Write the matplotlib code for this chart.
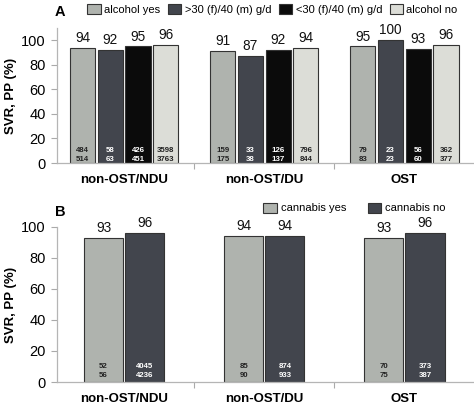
import numpy as np
import matplotlib.pyplot as plt
from matplotlib.patches import Patch

plt.rcParams['font.family'] = ['Liberation Sans', 'DejaVu Sans']

groups = ['non-OST/NDU', 'non-OST/DU', 'OST']

# panel A: alcohol
alc_labels = ['alcohol yes', '>30 (f)/40 (m) g/d', '<30 (f)/40 (m) g/d', 'alcohol no']
alc_colors = ['#afb3ae', '#42454d', '#0b0b0b', '#dcddd7']
alc_text = ['#222222', 'white', 'white', '#222222']
alc_svr = [[94, 91, 95],
           [92, 87, 100],
           [95, 92, 93],
           [96, 94, 96]]
alc_num = [[484, 159, 79],
           [58, 33, 23],
           [426, 126, 56],
           [3598, 796, 362]]
alc_den = [[514, 175, 83],
           [63, 38, 23],
           [451, 137, 60],
           [3763, 844, 377]]

# panel B: cannabis
can_labels = ['cannabis yes', 'cannabis no']
can_colors = ['#afb3ae', '#42454d']
can_text = ['#222222', 'white']
can_svr = [[93, 94, 93],
           [96, 94, 96]]
can_num = [[52, 85, 70],
           [4045, 874, 373]]
can_den = [[56, 90, 75],
           [4236, 933, 387]]

fig = plt.figure(figsize=(4.74, 4.07), dpi=100)
axA = fig.add_axes([0.120, 0.5995, 0.878, 0.332])
axB = fig.add_axes([0.120, 0.0614, 0.878, 0.381])

x = np.arange(len(groups))


def draw(ax, svr, num, den, colors, tcols, width, step, ymax, ytxt):
    n = len(svr)
    offs = (np.arange(n) - (n - 1) / 2) * step
    for i in range(n):
        bars = ax.bar(x + offs[i], svr[i], width, color=colors[i],
                      edgecolor='#333333', linewidth=0.8, zorder=2)
        for b, v, a, d in zip(bars, svr[i], num[i], den[i]):
            cx = b.get_x() + b.get_width() / 2
            ax.annotate(str(v), (cx, v), xytext=(0, 2), textcoords='offset points',
                        ha='center', va='bottom', fontsize=9.8, color='#111111')
            ax.text(cx, ytxt[0], str(a), ha='center', va='center', fontsize=5.7,
                    fontweight='bold', color=tcols[i], zorder=3)
            ax.text(cx, ytxt[1], str(d), ha='center', va='center', fontsize=5.7,
                    fontweight='bold', color=tcols[i], zorder=3)
    ax.set_xlim(-0.48, 2.49)
    ax.set_ylim(0, ymax)
    ax.set_yticks(range(0, 101, 20))
    ax.set_xticks(x)
    ax.set_xticklabels(groups, fontsize=9.5, fontweight='bold')
    ax.set_xticks([0.5, 1.5], minor=True)
    ax.tick_params(axis='x', which='major', length=0, pad=8)
    ax.tick_params(axis='x', which='minor', length=4, color='#aaaaaa', width=0.8)
    ax.tick_params(axis='y', length=4, color='#aaaaaa', labelsize=10.5, pad=4)
    for s in ['top', 'right']:
        ax.spines[s].set_visible(False)
    for s in ['left', 'bottom']:
        ax.spines[s].set_color('#b5b5b5')
        ax.spines[s].set_linewidth(0.9)
    ax.set_ylabel('SVR, PP (%)', fontsize=9.5, fontweight='bold', labelpad=3)


draw(axA, alc_svr, alc_num, alc_den, alc_colors, alc_text, 0.18, 0.198, 110, (9.8, 2.6))
draw(axB, can_svr, can_num, can_den, can_colors, can_text, 0.28, 0.293, 100, (10.3, 4.0))

hA = [Patch(facecolor=c, edgecolor='#333333', linewidth=0.8) for c in alc_colors]
fig.legend(hA, alc_labels, loc='center', bbox_to_anchor=(0.575, 0.977), ncol=4,
           frameon=False, fontsize=8, handlelength=1.2, handleheight=1.05,
           handletextpad=0.3, columnspacing=0.7, borderaxespad=0)
hB = [Patch(facecolor=c, edgecolor='#333333', linewidth=0.8) for c in can_colors]
fig.legend(hB, can_labels, loc='center', bbox_to_anchor=(0.748, 0.489), ncol=2,
           frameon=False, fontsize=8, handlelength=1.2, handleheight=1.05,
           handletextpad=0.35, columnspacing=2.0, borderaxespad=0)

fig.text(0.127, 0.971, 'A', fontsize=10.5, fontweight='bold', ha='center', va='center')
fig.text(0.127, 0.478, 'B', fontsize=10.5, fontweight='bold', ha='center', va='center')

fig.savefig('out.png', dpi=100)
